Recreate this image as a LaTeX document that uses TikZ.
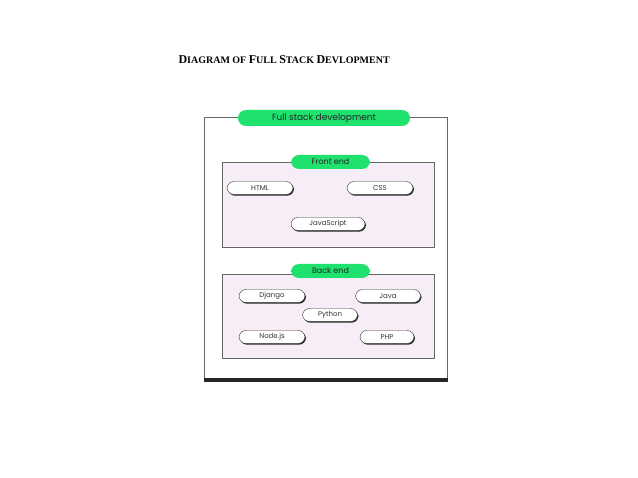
\documentclass[tikz,border=0pt]{standalone}
\usepackage{fontspec}
\usetikzlibrary{shadows}
\setmainfont{Liberation Serif}
\newfontfamily\pillfont{Poppins}
\begin{document}
\begin{tikzpicture}[x=1pt,y=-1pt,
  gpill/.style={rounded corners=8pt, inner sep=0pt, font=\pillfont\small, text=black!85},
  tpill/.style={draw=black!80, fill=white, rounded corners=7pt, inner sep=0pt, minimum height=13pt, font=\pillfont\scriptsize, text=black!80,
     drop shadow={shadow xshift=1pt, shadow yshift=-1.2pt, fill=black!85, opacity=1}},
  sect/.style={draw=black!60, line width=0.8pt, fill=violet!7}]
\useasboundingbox (0,0) rectangle (638,478);
\node[font=\bfseries, anchor=west] (title) at (175,60) {\large D\normalsize IAGRAM OF \large F\normalsize ULL \large S\normalsize TACK \large D\normalsize EVLOPMENT};
\draw[black!60, line width=0.8pt] (204,378) -- (204,117) -- (447,117) -- (447,378);
\fill[black!85] (203.5,378) rectangle (447.5,382);
\node[gpill, fill={rgb,255:red,30;green,225;blue,110}, minimum width=172pt, minimum height=16pt] (full) at (324,118) {Full stack development};
\node[sect, minimum width=212pt, minimum height=85pt, anchor=north west] (front) at (222,162) {};
\node[gpill, fill={rgb,255:red,30;green,225;blue,110}, minimum width=79pt, minimum height=14pt, font=\pillfont\footnotesize] (fl) at (330.5,162) {Front end};
\node[sect, minimum width=212pt, minimum height=84pt, anchor=north west] (back) at (222,274) {};
\node[gpill, fill={rgb,255:red,30;green,225;blue,110}, minimum width=79pt, minimum height=14pt, font=\pillfont\footnotesize] (bl) at (330.5,271) {Back end};
\node[tpill, minimum width=66pt] (html) at (260,188) {HTML};
\node[tpill, minimum width=66pt] (css) at (380,188) {CSS};
\node[tpill, minimum width=74pt] (js) at (328,224) {JavaScript};
\node[tpill, minimum width=66pt] (dj) at (272,296) {Django};
\node[tpill, minimum width=65pt] (java) at (388,296) {Java};
\node[tpill, minimum width=55pt] (py) at (330,315) {Python};
\node[tpill, minimum width=66pt] (node) at (272,337) {Node.js};
\node[tpill, minimum width=54pt] (php) at (387,337) {PHP};
\end{tikzpicture}
\end{document}
